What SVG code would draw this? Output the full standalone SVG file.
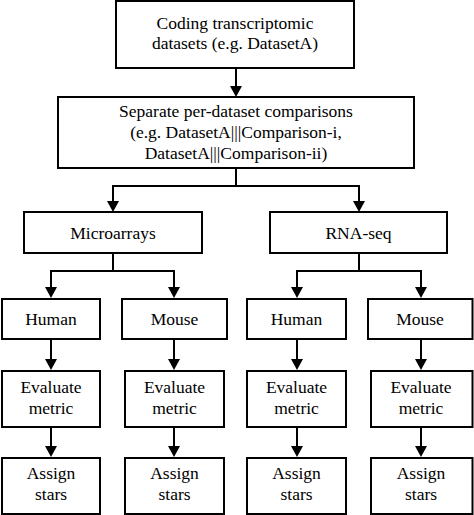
<svg xmlns="http://www.w3.org/2000/svg" width="474" height="515" viewBox="0 0 474 515">
<style>
rect.box{fill:#fff;stroke:#000;stroke-width:2}
text{font-size:17.5px;fill:#000;text-anchor:middle}
.c path{fill:none;stroke:#000;stroke-width:2}
</style>
<defs>
<marker id="ah" markerUnits="userSpaceOnUse" markerWidth="12" markerHeight="12" refX="1" refY="6" orient="auto">
<path d="M0,0 L11,6 L0,12 z" fill="#000"/>
</marker>
</defs>
<rect width="474" height="515" fill="#fff"/>
<g class="c" id="connectors">
<path d="M236,68 V87" marker-end="url(#ah)"/>
<path d="M236,168 V186 H113 V202" marker-end="url(#ah)"/>
<path d="M236,186 H359 V202" marker-end="url(#ah)"/>
<path d="M113,253 V271 H51 V288" marker-end="url(#ah)"/>
<path d="M113,271 H174 V288" marker-end="url(#ah)"/>
<path d="M359,253 V271 H297 V288" marker-end="url(#ah)"/>
<path d="M359,271 H421 V288" marker-end="url(#ah)"/>
<path d="M51,339 V360" marker-end="url(#ah)"/>
<path d="M174,339 V360" marker-end="url(#ah)"/>
<path d="M297,339 V360" marker-end="url(#ah)"/>
<path d="M421,339 V360" marker-end="url(#ah)"/>
<path d="M51,427 V447" marker-end="url(#ah)"/>
<path d="M174,427 V447" marker-end="url(#ah)"/>
<path d="M297,427 V447" marker-end="url(#ah)"/>
<path d="M421,427 V447" marker-end="url(#ah)"/>
</g>
<g font-family="'Liberation Serif', 'DejaVu Serif', serif">
<g id="coding">
<rect class="box" x="116" y="1" width="238" height="67"/>
<text x="235" y="29">Coding transcriptomic</text>
<text x="235" y="49">datasets (e.g. DatasetA)</text>
</g>
<g id="separate">
<rect class="box" x="58" y="97" width="356" height="71"/>
<text x="236" y="117">Separate per-dataset comparisons</text>
<text x="236" y="138">(e.g. DatasetA|||Comparison-i,</text>
<text x="236" y="159">DatasetA|||Comparison-ii)</text>
</g>
<g id="microarrays">
<rect class="box" x="24" y="212" width="178" height="41"/>
<text x="113" y="239">Microarrays</text>
</g>
<g id="rnaseq">
<rect class="box" x="270" y="212" width="177" height="41"/>
<text x="358.5" y="239">RNA-seq</text>
</g>
<g id="human1">
<rect class="box" x="2" y="299" width="98" height="40"/>
<text x="51" y="325">Human</text>
</g>
<g id="mouse1">
<rect class="box" x="122" y="299" width="105" height="40"/>
<text x="174.5" y="325">Mouse</text>
</g>
<g id="human2">
<rect class="box" x="247" y="299" width="99" height="40"/>
<text x="296.5" y="325">Human</text>
</g>
<g id="mouse2">
<rect class="box" x="368" y="299" width="104.5" height="40"/>
<text x="420" y="325">Mouse</text>
</g>
<g id="eval1">
<rect class="box" x="2" y="371" width="98" height="56"/>
<text x="51" y="393">Evaluate</text>
<text x="51" y="414">metric</text>
</g>
<g id="eval2">
<rect class="box" x="125" y="371" width="99" height="56"/>
<text x="174.5" y="393">Evaluate</text>
<text x="174.5" y="414">metric</text>
</g>
<g id="eval3">
<rect class="box" x="247" y="371" width="99" height="56"/>
<text x="296.5" y="393">Evaluate</text>
<text x="296.5" y="414">metric</text>
</g>
<g id="eval4">
<rect class="box" x="371" y="371" width="101.5" height="56"/>
<text x="421" y="393">Evaluate</text>
<text x="421" y="414">metric</text>
</g>
<g id="assign1">
<rect class="box" x="2" y="458" width="98" height="56"/>
<text x="51" y="479">Assign</text>
<text x="51" y="500">stars</text>
</g>
<g id="assign2">
<rect class="box" x="125" y="458" width="99" height="56"/>
<text x="174.5" y="479">Assign</text>
<text x="174.5" y="500">stars</text>
</g>
<g id="assign3">
<rect class="box" x="247" y="458" width="99" height="56"/>
<text x="296.5" y="479">Assign</text>
<text x="296.5" y="500">stars</text>
</g>
<g id="assign4">
<rect class="box" x="371" y="458" width="101.5" height="56"/>
<text x="421" y="479">Assign</text>
<text x="421" y="500">stars</text>
</g>
</g>
</svg>
